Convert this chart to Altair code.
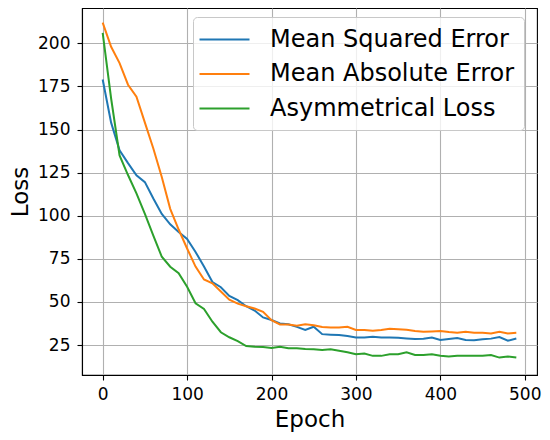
import pandas as pd
import altair as alt

epochs = [0, 10, 20, 30, 40, 50, 60, 70, 80, 90,
          100, 110, 120, 130, 140, 150, 160, 170, 180, 190,
          200, 210, 220, 230, 240, 250, 260, 270, 280, 290,
          300, 310, 320, 330, 340, 350, 360, 370, 380, 390,
          400, 410, 420, 430, 440, 450, 460, 470, 480, 490]

mse = [179, 154, 138, 130.5, 123.5, 119.5, 110, 101, 95, 90.5,
       86.5, 79, 70.5, 61.5, 58.5, 53.5, 51, 47.5, 45, 41,
       39.5, 37.5, 37, 35.5, 33.7, 35.6, 31.3, 31, 30.8, 30.2,
       29.4, 29.4, 29.8, 29.4, 29.4, 29.2, 28.8, 28.5, 28.6, 29.4,
       27.9, 28.5, 29, 27.9, 27.7, 28.3, 28.7, 29.6, 27.5, 28.8]

mae = [212, 198, 188.5, 176, 169, 154, 139, 122.5, 104, 92,
       81, 70.5, 63, 60.8, 56, 51.3, 49, 47.5, 46.2, 44.2,
       39.4, 36.9, 36.9, 36.2, 37.1, 36.5, 35.4, 35.2, 35.2, 35.6,
       33.7, 33.7, 33.3, 33.7, 34.4, 34.2, 33.8, 33.1, 32.7, 32.9,
       33.1, 32.5, 32.1, 32.7, 32.1, 32.1, 31.7, 32.7, 31.7, 32.1]

asym = [206, 168, 135, 123.6, 113, 101, 88.5, 76.2, 70.4, 66.6,
        58.8, 49.2, 45.9, 38.5, 32.4, 29.5, 27.2, 24.4, 24, 23.8,
        23.3, 24, 23.1, 23.1, 22.7, 22.5, 22.1, 22.5, 21.7, 20.8,
        19.6, 20, 18.7, 18.7, 19.6, 19.6, 20.8, 19.2, 19.2, 19.6,
        18.8, 18.3, 18.7, 18.8, 18.7, 18.8, 19.2, 17.7, 18.3, 17.7]

names = ["Mean Squared Error", "Mean Absolute Error", "Asymmetrical Loss"]
colors = ["#1f77b4", "#ff7f0e", "#2ca02c"]

frames = []
for name, vals in zip(names, [mse, mae, asym]):
    frames.append(pd.DataFrame({"Epoch": epochs, "Loss": vals, "Series": name}))
df = pd.concat(frames, ignore_index=True)

chart = alt.Chart(df).mark_line(strokeWidth=2).encode(
    x=alt.X("Epoch:Q",
            scale=alt.Scale(domain=[-24.5, 514.5], nice=False, zero=False),
            axis=alt.Axis(values=[0, 100, 200, 300, 400, 500], labelPadding=6,
                          titleY=51, titleBaseline="alphabetic")),
    y=alt.Y("Loss:Q",
            scale=alt.Scale(domain=[7.6, 220.5], nice=False, zero=False),
            axis=alt.Axis(values=[25, 50, 75, 100, 125, 150, 175, 200], labelPadding=7,
                          titleX=-55, titleBaseline="alphabetic")),
    color=alt.Color("Series:N", sort=names,
                    scale=alt.Scale(domain=names, range=colors),
                    legend=alt.Legend(title=None, orient="none", legendX=111, legendY=9,
                                      symbolType="M-2,0H2", symbolSize=625,
                                      symbolStrokeWidth=2, symbolOffset=9,
                                      labelFontSize=24, labelOffset=32,
                                      rowPadding=8.5, padding=9, labelLimit=400)),
).properties(
    width=455,
    height=367,
    autosize="none",
    padding={"left": 74, "top": 0, "right": 5, "bottom": 57},
).configure(
    font="DejaVu Sans",
).configure_axis(
    grid=True,
    gridColor="#b0b0b0",
    gridWidth=1.1,
    domainColor="black",
    domainWidth=1.1,
    tickColor="black",
    tickSize=5,
    tickWidth=1.1,
    labelFontSize=17,
    labelColor="black",
    titleFontSize=23,
    titleFontWeight="normal",
    titleColor="black",
).configure_legend(
    strokeColor="#c8c8c8",
    strokeWidth=1,
    fillColor="rgba(255,255,255,0.8)",
    cornerRadius=4,
).configure_view(
    stroke="black",
    strokeWidth=1.1,
)

chart.save("out.html", embed_options={"renderer": "svg", "actions": False})
